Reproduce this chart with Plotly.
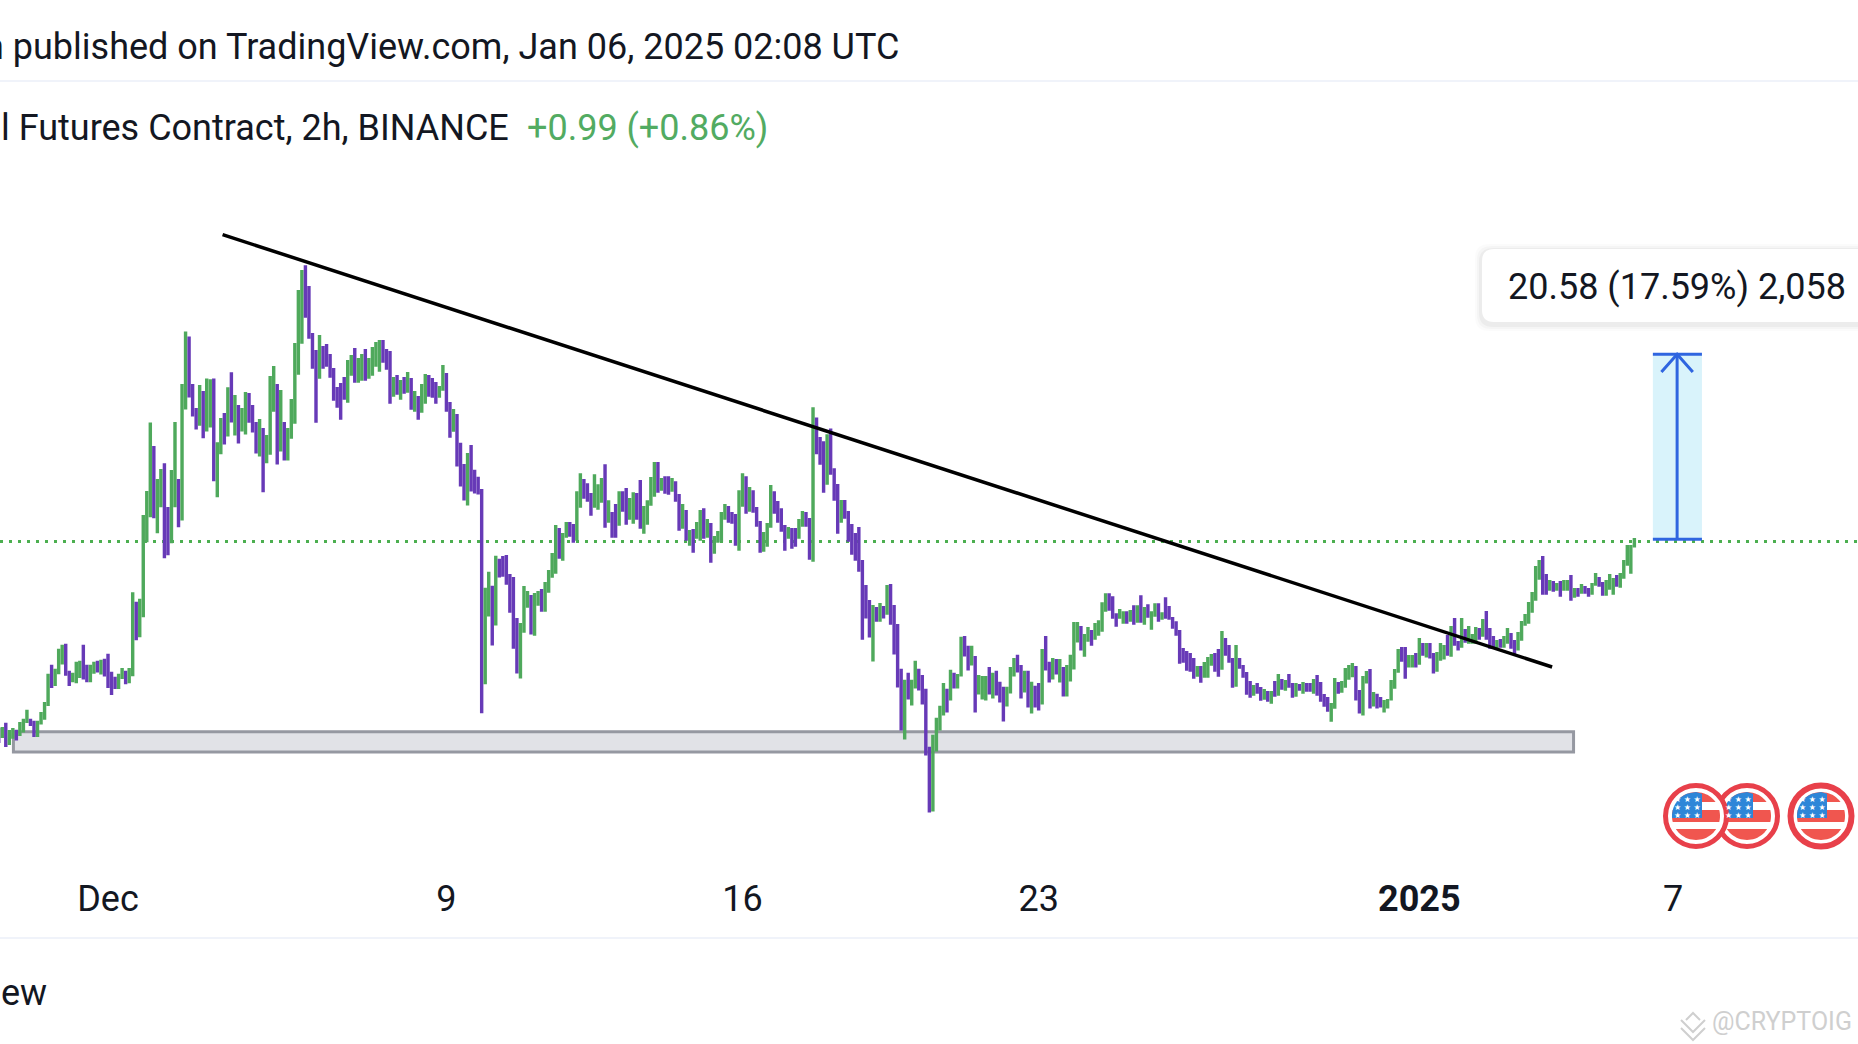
import math
import pandas as pd
import plotly.graph_objects as go

# 2h bars
first_bar = "2024-11-28 10:00"

bar_dirs = (
    "PGPGGPGGGP" "PGGGGPGGGP" "PGGGPPGGPG" "PPPPGGPGGP" "GGGGPGGPPG"
    "GPGGPPPGPG" "GPGGPGPGPG" "GPPPGPGGGP" "GPGGGGGPPP" "PGPPPPPPPG"
    "GPGGPGGGGP" "PPGPGPGPGP" "GGPPPGGPPG" "PPPGPPPPGG" "PGPPPPPPGG"
    "GPGGPGGGGP" "GGPPGGPPPG" "GGPGPPGPPG" "GPPGGGGPGP" "PGPPGPGPGG"
    "PGPGGGGPPP" "GGPGPPPGGG" "PPPPGPPGGP" "PGPPPGPPPG" "PPPPPPPPGP"
    "GPGPPPPGPG" "GPPPPGGGGP" "GPGGPPGPGG" "GPGPPPGGGP" "PGPGPPGPPG"
    "PGPGGGGPGG" "PGGGGPPPGG" "PGPGPGPGGP" "GPPPPPPPPP" "GPGGGPPGPP"
    "PGPPPPGPPG" "PGPGPGPPGP" "GPPGPPPPGG" "PGGGGPPGGP" "GPPGGGGGPP"
    "GGPGPGPPGG" "GPGPPGPGGG" "PGPPPGPGGP" "PGGGGGGGPP" "GPGPGGPGPG"
    "PPGGPPGGGP" "GGGGG"
)

highs = [
    95.90, 96.01, 96.49, 95.68, 95.90, 95.71, 96.57, 96.94, 97.94, 96.94,
    96.71, 96.71, 97.68, 98.79, 101.94, 102.94, 102.49, 104.71, 105.16, 105.27,
    102.27, 102.05, 103.27, 103.38, 105.16, 102.94, 102.94, 103.27, 103.38, 103.49,
    103.60, 104.16, 102.16, 101.60, 101.94, 102.57, 102.27, 102.57, 111.01, 109.94,
    110.27, 119.60, 122.27, 129.90, 127.27, 123.60, 124.71, 125.34, 120.49, 124.60,
    129.94, 123.60, 134.16, 140.01, 139.45, 134.16, 131.49, 134.05, 133.38, 134.79,
    134.71, 134.79, 127.68, 130.38, 130.94, 133.82, 135.49, 132.94, 131.82, 131.49,
    133.27, 133.16, 131.84, 129.95, 130.28, 129.28, 128.50, 135.06, 136.17, 134.17,
    133.50, 129.95, 129.28, 132.50, 138.73, 144.62, 146.84, 147.39, 145.06, 139.84,
    137.95, 139.62, 138.39, 138.62, 137.50, 135.95, 133.84, 134.28, 134.95, 136.84,
    137.39, 138.17, 137.06, 137.50, 138.06, 137.06, 138.28, 138.84, 139.06, 139.06,
    138.06, 137.84, 134.95, 135.17, 134.62, 134.95, 135.50, 134.84, 133.39, 132.84,
    134.17, 135.28, 135.17, 134.84, 134.39, 133.95, 136.28, 135.39, 132.17, 131.39,
    130.84, 127.62, 125.28, 126.50, 127.39, 124.62, 123.84, 122.50, 111.50, 113.28,
    111.73, 115.06, 114.73, 115.03, 115.14, 113.03, 112.70, 108.14, 107.59, 111.70,
    111.14, 110.70, 110.92, 111.14, 111.36, 112.14, 113.48, 115.36, 118.48, 118.14,
    117.59, 118.81, 118.81, 118.59, 122.25, 124.25, 123.59, 123.14, 122.03, 124.14,
    123.03, 123.70, 125.25, 121.25, 119.92, 120.81, 122.25, 122.25, 122.59, 121.48,
    122.14, 122.03, 123.48, 120.59, 121.25, 123.81, 125.48, 125.48, 123.70, 123.92,
    123.92, 123.70, 123.36, 121.92, 120.81, 120.14, 117.92, 118.03, 118.81, 120.14,
    120.36, 119.14, 118.70, 117.25, 117.81, 119.92, 120.81, 120.59, 119.92, 119.70,
    122.36, 124.25, 123.92, 122.70, 122.36, 120.48, 118.92, 117.70, 118.70, 122.92,
    122.25, 121.14, 120.36, 118.48, 118.25, 118.14, 118.14, 119.14, 120.03, 119.92,
    119.25, 131.59, 130.44, 128.26, 127.81, 128.59, 129.22, 124.81, 123.04, 121.26,
    121.26, 120.04, 118.59, 117.59, 118.26, 114.59, 111.81, 110.15, 109.59, 109.37,
    109.81, 109.48, 111.81, 111.92, 109.59, 107.48, 102.48, 101.26, 102.04, 101.26,
    103.37, 102.48, 101.81, 100.26, 93.81, 95.15, 97.04, 98.37, 100.92, 100.26,
    102.37, 102.04, 101.92, 106.04, 106.15, 105.04, 105.04, 103.92, 101.81, 101.70,
    101.70, 102.70, 102.04, 102.26, 101.04, 100.48, 100.48, 102.70, 103.70, 104.04,
    102.92, 102.26, 102.26, 101.04, 100.59, 100.92, 104.70, 106.15, 103.26, 103.70,
    103.59, 103.59, 102.70, 102.92, 104.04, 107.70, 107.70, 107.26, 106.35, 107.13,
    106.79, 107.57, 107.90, 109.90, 110.90, 110.90, 110.57, 108.68, 109.13, 108.90,
    108.90, 109.02, 109.57, 109.57, 110.68, 109.35, 109.68, 108.90, 109.79, 109.79,
    108.79, 110.46, 109.46, 108.24, 107.79, 106.79, 104.79, 104.46, 104.24, 103.68,
    102.79, 102.79, 103.24, 103.79, 104.13, 104.24, 104.68, 106.68, 105.90, 105.13,
    103.68, 105.13, 103.68, 102.90, 102.13, 101.13, 100.68, 100.90, 100.46, 100.24,
    100.02, 100.02, 101.13, 101.90, 101.35, 101.24, 101.90, 100.90, 100.90, 100.79,
    101.02, 100.90, 100.90, 101.35, 101.79, 101.02, 99.68, 99.35, 98.68, 101.46,
    101.02, 101.13, 102.57, 102.90, 103.14, 102.81, 100.14, 101.70, 102.25, 102.47,
    99.92, 99.70, 99.36, 99.03, 99.14, 101.25, 102.47, 104.70, 104.92, 104.92,
    104.03, 104.03, 104.25, 105.92, 105.36, 105.36, 105.36, 104.25, 104.36, 105.36,
    105.14, 106.25, 107.25, 108.14, 105.58, 108.14, 106.92, 107.25, 106.36, 107.14,
    107.03, 108.03, 108.92, 107.03, 106.14, 105.70, 105.81, 106.14, 107.03, 106.47,
    105.70, 106.58, 107.81, 108.58, 109.92, 111.03, 113.92, 114.58, 115.03, 113.03,
    112.36, 112.25, 112.03, 112.25, 112.36, 112.36, 112.92, 111.47, 111.47, 111.92,
    111.70, 111.47, 112.03, 113.14, 112.70, 112.14, 112.36, 113.03, 112.58, 112.92,
    113.14, 114.58, 116.25, 116.25, 117.03,
]

lows = [
    94.42, 94.97, 93.97, 94.19, 94.90, 94.71, 95.19, 95.60, 96.64, 96.31,
    95.08, 95.08, 96.49, 97.01, 98.53, 100.53, 100.75, 102.08, 103.16, 101.90,
    100.75, 101.19, 101.08, 101.64, 101.49, 101.19, 101.19, 102.12, 102.27, 102.05,
    101.82, 100.53, 99.75, 100.42, 100.42, 101.53, 100.97, 101.08, 101.86, 105.86,
    106.19, 108.42, 116.75, 119.53, 119.42, 117.75, 120.64, 114.97, 115.31, 116.64,
    120.64, 118.42, 119.16, 131.53, 132.86, 130.75, 129.31, 129.71, 128.31, 129.08,
    129.53, 123.53, 121.75, 126.53, 127.64, 128.53, 130.08, 128.64, 127.75, 129.08,
    128.75, 130.05, 128.95, 126.62, 126.28, 122.32, 125.54, 126.50, 131.28, 125.39,
    126.84, 125.84, 125.84, 128.28, 129.95, 135.39, 138.84, 141.73, 139.39, 136.06,
    130.06, 134.95, 136.06, 136.28, 135.06, 132.50, 131.73, 130.39, 132.62, 132.28,
    135.28, 134.50, 134.50, 134.73, 134.73, 134.95, 135.28, 136.28, 135.73, 136.73,
    135.95, 132.17, 132.95, 133.17, 132.62, 133.28, 133.39, 131.50, 131.28, 130.39,
    131.17, 132.17, 132.95, 132.84, 132.17, 132.84, 133.62, 131.28, 128.39, 129.06,
    125.17, 122.95, 121.39, 120.84, 122.39, 122.17, 122.06, 97.73, 100.95, 108.50,
    105.28, 107.50, 112.84, 112.92, 112.03, 108.92, 104.92, 102.14, 101.59, 106.70,
    109.48, 106.48, 106.36, 109.70, 109.03, 109.03, 111.14, 112.81, 113.25, 114.92,
    114.70, 117.25, 117.36, 116.70, 116.92, 120.59, 121.59, 121.25, 119.70, 120.59,
    120.36, 121.14, 118.36, 118.92, 117.25, 117.25, 118.59, 120.14, 118.70, 119.25,
    118.81, 119.25, 118.25, 117.70, 118.70, 120.81, 121.81, 122.25, 122.48, 122.14,
    122.03, 122.36, 121.25, 118.03, 118.25, 116.92, 116.36, 115.59, 117.14, 116.92,
    117.14, 117.25, 114.48, 115.48, 116.70, 116.81, 119.25, 118.92, 118.81, 116.36,
    115.81, 120.70, 119.92, 120.14, 120.03, 118.48, 115.59, 115.70, 116.25, 118.36,
    119.92, 118.92, 117.92, 115.81, 117.14, 116.03, 116.25, 117.14, 118.48, 118.48,
    114.81, 114.59, 126.55, 125.37, 122.26, 123.15, 124.26, 121.37, 117.70, 118.92,
    119.37, 116.81, 115.37, 114.70, 113.48, 105.92, 108.26, 106.15, 103.48, 107.92,
    107.92, 108.26, 108.70, 107.59, 104.26, 100.59, 95.81, 94.81, 99.26, 98.59,
    100.48, 100.26, 98.70, 93.04, 86.70, 86.81, 93.48, 95.81, 97.48, 97.81,
    99.15, 100.48, 100.48, 101.81, 104.04, 102.48, 103.04, 97.81, 99.81, 99.26,
    99.15, 99.81, 99.37, 99.70, 98.92, 96.81, 98.48, 99.92, 101.81, 102.26,
    99.37, 100.04, 98.37, 97.70, 98.37, 98.04, 98.70, 102.48, 101.15, 101.48,
    102.04, 101.15, 99.59, 99.59, 101.26, 102.59, 105.59, 104.70, 104.02, 105.68,
    105.24, 105.90, 106.35, 106.79, 109.02, 109.13, 108.24, 107.35, 108.24, 107.68,
    107.68, 107.90, 107.57, 107.79, 107.79, 107.57, 108.35, 107.02, 108.46, 107.90,
    108.13, 108.24, 108.13, 107.13, 106.35, 103.24, 103.35, 102.46, 102.35, 101.57,
    101.79, 101.13, 101.68, 101.68, 103.02, 102.35, 101.79, 102.57, 104.13, 103.35,
    100.57, 100.68, 102.68, 101.68, 99.79, 99.46, 99.68, 99.90, 99.13, 99.24,
    99.02, 98.79, 99.57, 99.68, 100.35, 100.24, 100.57, 99.46, 99.57, 100.24,
    99.90, 100.13, 100.13, 99.90, 99.68, 99.02, 98.46, 97.90, 96.79, 98.24,
    99.90, 100.02, 100.57, 101.46, 101.73, 99.14, 97.70, 97.47, 101.03, 98.25,
    98.47, 98.25, 98.36, 97.81, 98.25, 99.14, 100.47, 102.25, 103.47, 101.58,
    102.81, 102.81, 102.81, 103.14, 104.14, 103.92, 103.81, 102.14, 102.36, 103.58,
    103.70, 104.14, 104.03, 105.25, 104.70, 105.03, 105.58, 105.47, 105.47, 105.47,
    105.92, 106.25, 105.92, 104.92, 104.92, 104.92, 105.03, 105.03, 105.47, 104.92,
    104.25, 104.70, 105.81, 107.47, 107.70, 108.92, 110.25, 112.58, 110.92, 110.92,
    111.36, 111.25, 111.36, 110.70, 111.36, 111.36, 110.25, 110.58, 110.70, 111.03,
    111.03, 110.70, 110.92, 111.92, 111.81, 110.81, 110.81, 111.47, 110.92, 111.81,
    111.70, 112.70, 114.14, 113.25, 116.18,
]

last_price = 116.74
zone_high, zone_low = 95.59, 93.33
trend_x = ["2024-12-03 17:00", "2025-01-04 03:20"]
trend_y = [150.88, 102.78]
measure_x = ["2025-01-06 12:30", "2025-01-07 02:15", "2025-01-07 16:20"]
measure_low, measure_high = 117.0, 137.58

tick_vals = ["2024-12-01", "2024-12-09", "2024-12-16", "2024-12-23", "2025-01-01", "2025-01-07"]
tick_text = ["Dec", "9", "16", "23", "<b>2025</b>", "7"]

W, H = 1858, 1044
TOP, BOTTOM = 81, 862
GREEN = "#4caf50"
TEXT_GREEN = "#52ab62"
STICK_GREEN = "#4fa95c"
PURPLE = "#673ab7"
BLUE = "#2f65e0"
INK = "#131722"


def fx(px):
    return px / W


def fy(py):
    return 1 - (py - TOP) / (BOTTOM - TOP)


def disk_band(cx, cy, r, x0, x1, y0, y1):
    # piece of a disk cut by a box, as a polygon path in paper coordinates
    left, right = [], []
    for i in range(15):
        yy = y0 + (y1 - y0) * i / 14
        half = math.sqrt(max(r * r - yy * yy, 0))
        left.append((max(-half, x0), yy))
        right.append((min(half, x1), yy))
    pts = left + right[::-1]
    d = "M" + " L".join(f"{fx(cx + a):.5f},{fy(cy + b):.5f}" for a, b in pts) + " Z"
    return dict(type="path", xref="paper", yref="paper", path=d, line_width=0, layer="above")


def round_box(x0, y0, x1, y1, r):
    return (
        f"M{fx(x0 + r)},{fy(y0)} L{fx(x1 - r)},{fy(y0)} Q{fx(x1)},{fy(y0)} {fx(x1)},{fy(y0 + r)} "
        f"L{fx(x1)},{fy(y1 - r)} Q{fx(x1)},{fy(y1)} {fx(x1 - r)},{fy(y1)} "
        f"L{fx(x0 + r)},{fy(y1)} Q{fx(x0)},{fy(y1)} {fx(x0)},{fy(y1 - r)} "
        f"L{fx(x0)},{fy(y0 + r)} Q{fx(x0)},{fy(y0)} {fx(x0 + r)},{fy(y0)} Z"
    )


dates = pd.date_range(first_bar, periods=len(highs), freq="2h")
opens = [lo if d == "G" else hi for d, hi, lo in zip(bar_dirs, highs, lows)]
closes = [hi if d == "G" else lo for d, hi, lo in zip(bar_dirs, highs, lows)]

fig = go.Figure()
fig.add_trace(
    go.Candlestick(
        x=dates,
        open=opens,
        high=highs,
        low=lows,
        close=closes,
        increasing=dict(line=dict(color=STICK_GREEN, width=1.7), fillcolor=STICK_GREEN),
        decreasing=dict(line=dict(color=PURPLE, width=1.7), fillcolor=PURPLE),
        showlegend=False,
    )
)
fig.add_trace(
    go.Scatter(x=trend_x, y=trend_y, mode="lines", line=dict(color="#000000", width=3.5), showlegend=False)
)
# arrow of the measure tool
fig.add_trace(
    go.Scatter(
        x=[measure_x[1], measure_x[1]],
        y=[measure_low, measure_high],
        mode="lines",
        line=dict(color=BLUE, width=3),
        showlegend=False,
    )
)
fig.add_trace(
    go.Scatter(
        x=["2025-01-06 17:20", measure_x[1], "2025-01-07 11:10"],
        y=[135.6, measure_high, 135.6],
        mode="lines",
        line=dict(color=BLUE, width=3),
        showlegend=False,
    )
)

shapes = [
    dict(type="line", xref="paper", yref="paper", x0=0, x1=1, y0=fy(81), y1=fy(81), line=dict(color="#f0f3fa", width=2)),
    dict(type="line", xref="paper", yref="paper", x0=0, x1=1, y0=fy(938), y1=fy(938), line=dict(color="#f0f3fa", width=2)),
    dict(type="rect", x0="2024-11-28 18:20", x1="2025-01-04 15:30", y0=zone_low, y1=zone_high,
         fillcolor="#e1e2e7", line=dict(color="#9598a1", width=3), layer="below"),
    dict(type="line", xref="paper", x0=0, x1=1, y0=last_price, y1=last_price,
         line=dict(color=GREEN, width=3, dash="3px,6px"), layer="below"),
    dict(type="rect", x0=measure_x[0], x1=measure_x[2], y0=measure_low, y1=measure_high,
         fillcolor="#d9f3fb", line_width=0, layer="below"),
    dict(type="line", x0=measure_x[0], x1=measure_x[2], y0=measure_high, y1=measure_high, line=dict(color=BLUE, width=3)),
    dict(type="line", x0=measure_x[0], x1=measure_x[2], y0=measure_low, y1=measure_low, line=dict(color=BLUE, width=3)),
]

# label of the measure tool with a soft shadow
for off, alpha in [(7, 0.015), (5, 0.025), (3, 0.035)]:
    shapes.append(dict(type="path", xref="paper", yref="paper",
                       path=round_box(1482 - off, 249 - off + 2, 1880, 322 + off + 2, 14),
                       fillcolor=f"rgba(0,0,0,{alpha})", line_width=0))
shapes.append(dict(type="path", xref="paper", yref="paper", path=round_box(1482, 249, 1880, 322, 12),
                   fillcolor="#ffffff", line_width=0))

annotations = []


def text(px, py, s, size=36, color=INK, anchor="left", family="Roboto"):
    annotations.append(dict(xref="paper", yref="paper", x=fx(px), y=fy(py), text=s, showarrow=False,
                            xanchor=anchor, yanchor="middle", font=dict(family=family, size=size, color=color)))


text(-18, 47, "n published on TradingView.com, Jan 06, 2025 02:08 UTC")
text(-1, 128, "l Futures Contract, 2h, BINANCE")
text(525, 128, "+0.99 (+0.86%)", color=TEXT_GREEN)
text(-1, 993, "ew")
text(1506, 287, "20.58 (17.59%) 2,058")
text(1710, 1022, "@CRYPTOIG", size=25, color="#cfcfcf")

# flag icons of the economic events, back one first
for cx, ring in [(1747, 5), (1696, 5), (1821, 6)]:
    cy = 816
    shapes.append(dict(type="circle", xref="paper", yref="paper", x0=fx(cx - 30.5), x1=fx(cx + 30.5),
                       y0=fy(cy - 30.5), y1=fy(cy + 30.5), fillcolor="#ffffff",
                       line=dict(color="#e8404a", width=ring), layer="above"))
    for y0, y1 in [(-24, -14), (-6, 6), (13, 24)]:
        band = disk_band(cx, cy, 24, -24, 24, y0, y1)
        band["fillcolor"] = "#f0564f"
        shapes.append(band)
    canton = disk_band(cx, cy, 24, -24, 6, -24, 2)
    canton["fillcolor"] = "#2e86d8"
    shapes.append(canton)
    for row in [-17, -9, -1]:
        text(cx - 9, cy + row, "★ ★ ★", size=8, color="#ffffff", anchor="center", family="DejaVu Sans")

# watermark mark
for dy in [0, 8]:
    d = (f"M{fx(1681)},{fy(1020 + dy)} L{fx(1693)},{fy(1032 + dy)} L{fx(1705)},{fy(1020 + dy)}")
    shapes.append(dict(type="path", xref="paper", yref="paper", path=d, line=dict(color="#cfcfcf", width=2)))
shapes.append(dict(type="path", xref="paper", yref="paper",
                   path=f"M{fx(1686)},{fy(1020)} L{fx(1693)},{fy(1013)} L{fx(1700)},{fy(1020)}",
                   line=dict(color="#cfcfcf", width=2)))

fig.update_layout(
    width=W,
    height=H,
    margin=dict(l=0, r=0, t=TOP, b=H - BOTTOM),
    paper_bgcolor="#ffffff",
    plot_bgcolor="#ffffff",
    shapes=shapes,
    annotations=annotations,
    xaxis=dict(
        range=["2024-11-28 10:43", "2025-01-11 08:53"],
        rangeslider=dict(visible=False),
        showgrid=False,
        zeroline=False,
        showline=False,
        ticks="outside",
        ticklen=5,
        tickcolor="rgba(0,0,0,0)",
        tickmode="array",
        tickvals=tick_vals,
        ticktext=tick_text,
        tickfont=dict(family="Roboto", size=36, color=INK),
    ),
    yaxis=dict(range=[81.09, 167.97], visible=False, showgrid=False, zeroline=False),
)

fig.write_html(
    "out.html",
    config={"displayModeBar": False},
    post_script="document.body.style.margin='0';document.body.style.overflow='hidden';",
)
